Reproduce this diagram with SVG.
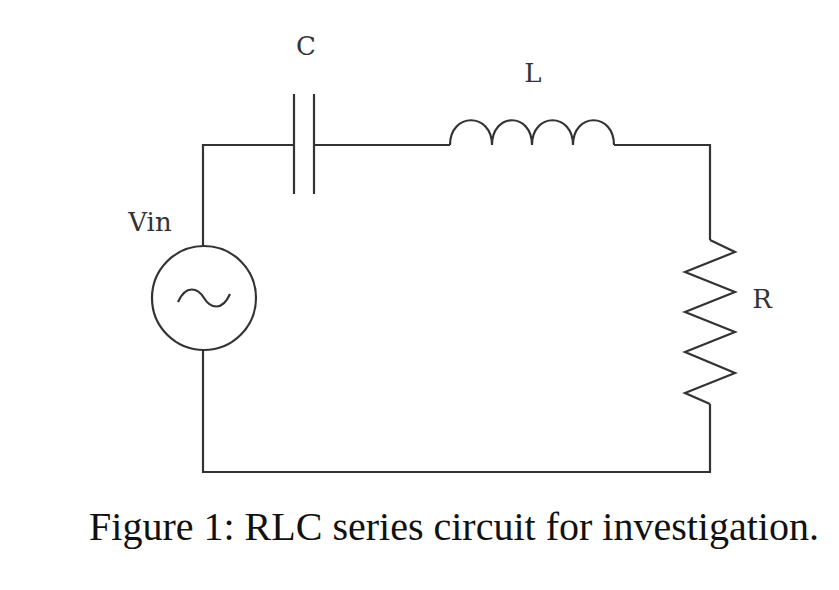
<svg xmlns="http://www.w3.org/2000/svg" width="839" height="590" viewBox="0 0 839 590">
<style>
.w{fill:none;stroke:#333;stroke-width:2.2;stroke-linejoin:miter}
.lb{font-family:"DejaVu Serif",serif;font-size:26px;fill:#333}
.cap{font-family:"Liberation Serif",serif;font-size:40px;fill:#111}
</style>
<rect width="839" height="590" fill="#fff"/>
<g id="connectors">
<path class="w" d="M294,145 H203 V246 M203,350 V472 H710 V404 M710,240 V145 H614 M450,145 H314"/>
</g>
<g id="C"><path class="w" d="M294,94 V194 M314,94 V194"/><text class="lb" x="306" y="55" text-anchor="middle">C</text></g>
<g id="L"><path class="w" d="M450,145 C450,112 492,112 492,145 C492,112 532,112 532,145 C532,112 573,112 573,145 C573,112 614,112 614,145"/><text class="lb" x="533" y="82" text-anchor="middle">L</text></g>
<g id="R"><path class="w" d="M710,240 L735,252 L685,272 L735,292 L685,312 L735,332 L685,352 L735,373 L685,393 L710,404"/><text class="lb" x="762" y="308" text-anchor="middle">R</text></g>
<g id="Vin"><circle class="w" cx="204" cy="298" r="52"/><path class="w" d="M178,302 C186,284 198,288 204,298 C210,308 222,312 230,294"/><text class="lb" x="150" y="231" text-anchor="middle">Vin</text></g>
<text class="cap" x="454" y="540" text-anchor="middle">Figure 1: RLC series circuit for investigation.</text>
</svg>
